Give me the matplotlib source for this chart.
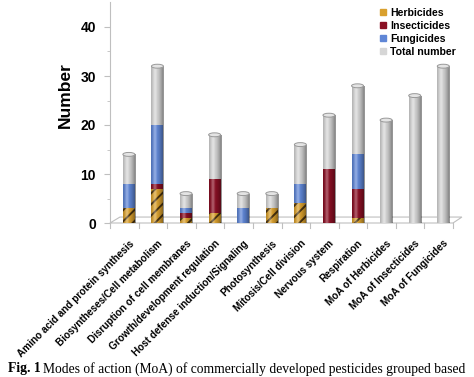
import matplotlib
matplotlib.use("Agg")
import matplotlib.pyplot as plt
import matplotlib.patches as mpatches
import numpy as np

# data
categories = ["Amino acid and protein synthesis", "Biosyntheses/Cell metabolism",
              "Disruption of cell membranes", "Growth/development regulation",
              "Host defense induction/Signaling", "Photosynthesis",
              "Mitosis/Cell division", "Nervous system", "Respiration",
              "MoA of Herbicides", "MoA of Insecticides", "MoA of Fungicides"]
herbicides   = [3, 7, 1, 2, 0, 3, 4, 0, 1, 0, 0, 0]
insecticides = [0, 1, 1, 7, 0, 0, 0, 11, 6, 0, 0, 0]
fungicides   = [5, 12, 1, 0, 3, 0, 4, 0, 7, 0, 0, 0]
total_number = [14, 32, 6, 18, 6, 6, 16, 22, 28, 21, 26, 32]

col_herb  = "#D9A02E"
col_ins   = "#8A1024"
col_fung  = "#5F86D6"
col_total = "#D6D6D6"

plt.rcParams["font.family"] = ["Liberation Sans", "DejaVu Sans"]
plt.rcParams["hatch.linewidth"] = 1.4

W, H = 474, 377
fig = plt.figure(figsize=(W / 100, H / 100), dpi=100)
# axes in pixel positions
x0, x1 = 110, 453
y0, y1 = 223, 2.5
ax = fig.add_axes([x0 / W, 1 - y0 / H, (x1 - x0) / W, (y0 - y1) / H])

x = np.arange(len(categories))
width = 0.42
herb = np.array(herbicides)
ins = np.array(insecticides)
fung = np.array(fungicides)
tot = np.array(total_number)
grey = tot - herb - ins - fung

# shading for cylinder look
n = 64
t = np.linspace(0, 1, n)
shade = np.zeros((1, n, 4))
dark = np.clip(np.abs(t - 0.35) / 0.65, 0, 1) ** 1.6 * 0.45
light = np.clip(1 - np.abs(t - 0.3) / 0.22, 0, 1) * 0.35
shade[0, :, :3] = (light / (light + dark + 1e-9))[:, None]
shade[0, :, 3] = light + dark


def cyl(bottom, height, color, hatch=None, z=2):
    bars = ax.bar(x, height, width, bottom=bottom, color=color, zorder=z,
                  edgecolor="#4A3310" if hatch else color, linewidth=0, hatch=hatch)
    for b, h in zip(bars, height):
        if h <= 0:
            continue
        im = ax.imshow(shade, extent=[b.get_x(), b.get_x() + width, b.get_y(), b.get_y() + h],
                       aspect="auto", zorder=z + 0.5, interpolation="bilinear")
        im.set_clip_path(b)
    return bars


cyl(0, herb, col_herb, hatch="///")
cyl(herb, ins, col_ins)
cyl(herb + ins, fung, col_fung)
cyl(herb + ins + fung, grey, col_total)

# top caps
for xi, ti in zip(x, tot):
    ax.add_patch(mpatches.Ellipse((xi, ti), width, 0.8, facecolor="#E4E4E4",
                                  edgecolor="#999999", linewidth=0.7, zorder=5))

ax.set_xlim(-0.66, 11.34)
ax.set_ylim(0, 45)
ax.set_xticks(x)
ax.set_xticklabels(categories, rotation=45, ha="right", va="top",
                   rotation_mode="anchor", fontsize=7.2, fontweight="bold")
ax.tick_params(axis="x", length=0, pad=11)
ax.set_yticks([0, 10, 20, 30, 40])
ax.set_yticks(np.arange(5, 45, 10), minor=True)
ax.set_yticklabels(["0", "10", "20", "30", "40"], fontsize=10, fontweight="bold")
ax.tick_params(axis="y", which="major", length=4, color="#BFBFBF", pad=6)
ax.tick_params(axis="y", which="minor", length=2, color="#BFBFBF")
ax.set_ylabel("Number", fontsize=12.5, fontweight="bold")
ax.yaxis.set_label_coords(-0.108, 0.58)
for s in ["top", "right", "bottom"]:
    ax.spines[s].set_visible(False)
ax.spines["left"].set_color("#BFBFBF")
ax.set_facecolor("none")

# 3d floor
floor = mpatches.Polygon([(0, 0), (1, 0), (1.026, 0.027), (0.029, 0.027)], closed=True,
                         transform=ax.transAxes, facecolor="none", edgecolor="#BFBFBF",
                         linewidth=0.8, clip_on=False, zorder=1)
ax.add_patch(floor)
for k in range(len(categories) + 1):
    ax.plot([k - 0.66, k - 0.66], [0, -1.0], color="#BFBFBF", lw=0.8, clip_on=False)

# legend
handles = [mpatches.Patch(color=c) for c in [col_herb, col_ins, col_fung, col_total]]
leg = ax.legend(handles, ["Herbicides", "Insecticides", "Fungicides", "Total number"],
                loc="upper right", bbox_to_anchor=(1.035, 1.02), frameon=False,
                handlelength=0.5, handleheight=0.5, handletextpad=0.4,
                labelspacing=0.3, prop={"weight": "bold", "size": 7.6})

# caption
fig.text(0.017, 1 - 362 / H, "Fig. 1", fontsize=9.8, fontweight="bold",
         family="Liberation Serif", va="top")
fig.text(0.091, 1 - 362 / H,
         "Modes of action (MoA) of commercially developed pesticides grouped based",
         fontsize=9.8, family="Liberation Serif", va="top")

fig.savefig("out.png", dpi=100)
